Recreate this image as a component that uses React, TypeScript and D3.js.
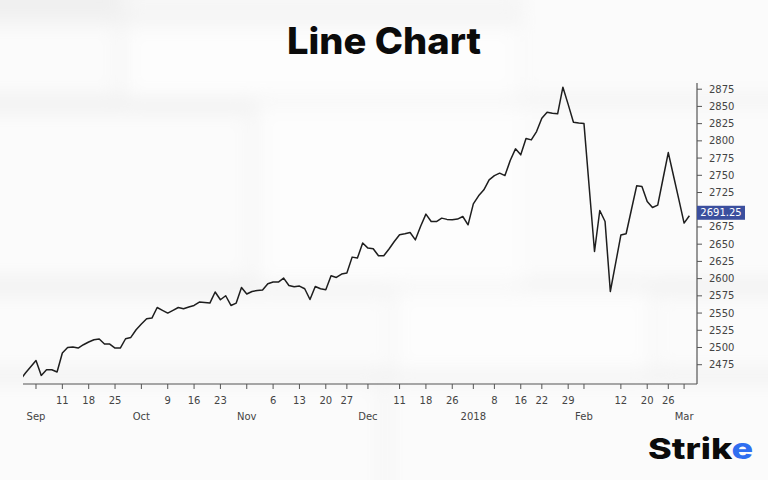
import React from "react";
import * as d3 from "d3";

// Daily closes, trading-day index -3 (Aug 29 2017) .. 124 (Mar 2 2018)
const startIndex = -3;
const closes = [
  2453, 2463, 2472, 2481, 2459.5, 2467.7, 2467.7, 2464.4, 2492, 2500,
  2500.7, 2499.2, 2504, 2508, 2511.3, 2512.3, 2505, 2505, 2499.2, 2499.2,
  2512.7, 2514.6, 2525.8, 2534, 2541.7, 2542.7, 2558.1, 2554, 2550, 2554,
  2558.1, 2556.2, 2558.7, 2561, 2566, 2565.4, 2564.5, 2580.5, 2569.3, 2575.1,
  2561, 2564.5, 2587.1, 2577.6, 2581.3, 2582.8, 2583.4, 2592.5, 2595, 2595,
  2600.8, 2590, 2588.2, 2589.2, 2585.3, 2569.7, 2588.6, 2585.3, 2583.8, 2604.1,
  2601.7, 2606.6, 2608, 2631.2, 2629.8, 2651.6, 2644.3, 2643.3, 2633.1, 2633.1,
  2643, 2653.9, 2663.6, 2665, 2666.9, 2656.3, 2676, 2693.6, 2682.9, 2682.9,
  2687.8, 2686, 2685.4, 2686.4, 2690.2, 2678.1, 2708.6, 2720.2, 2728.9, 2743.4,
  2749.6, 2753.1, 2749.6, 2771.4, 2788.4, 2779.7, 2803.3, 2801.4, 2813.5, 2832.9,
  2841.6, 2840, 2839.2, 2877.9, 2853, 2827.1, 2826, 2825.1, 2732, 2639.4,
  2698.9, 2682.9, 2581.3, 2622, 2663.2, 2665.1, 2700, 2734.7, 2733.7, 2712,
  2703.2, 2706.7, 2745, 2783, 2749, 2715, 2680.6, 2691.25,
];
const lastValue = 2691.25;

// X-axis ticks (trading-day index), labels, and row (0 = day row, 1 = month row)
const xTickIndex = [0, 5, 10, 15, 20, 25, 30, 35, 40, 45, 50, 55, 59, 63, 69, 74, 79, 83, 87, 92, 96, 101, 104, 111, 116, 120, 123];
const xTickLabel = ["Sep", "11", "18", "25", "Oct", "9", "16", "23", "Nov", "6", "13", "20", "27", "Dec", "11", "18", "26", "2018", "8", "16", "22", "29", "Feb", "12", "20", "26", "Mar"];
const xTickRow = [1, 0, 0, 0, 1, 0, 0, 0, 1, 0, 0, 0, 0, 1, 0, 0, 0, 1, 0, 0, 0, 0, 1, 0, 0, 0, 1];

const yTicks = [2475, 2500, 2525, 2550, 2575, 2600, 2625, 2650, 2675, 2700, 2725, 2750, 2775, 2800, 2825, 2850, 2875];

const title = "Line Chart";

export default function App() {
  const W = 768, H = 480;
  const left = 23, right = 697, top = 83, bottom = 384;
  const x = d3.scaleLinear().domain([-2.467, 125.45]).range([left, right]);
  const y = d3.scaleLinear().domain([2447, 2884]).range([bottom, top]);
  const pts: [number, number][] = closes.map((v, i) => [startIndex + i, v]);
  const line = d3.line<[number, number]>().x((d) => x(d[0])).y((d) => y(d[1]));
  const axisColor = "#555";
  const labelColor = "#444";
  const font = "'DejaVu Sans', Verdana, sans-serif";
  const shown = yTicks.filter((t) => Math.abs(y(t) - y(lastValue)) > 9);

  return (
    <svg width={W} height={H} style={{ position: "fixed", left: 0, top: 0 }}>
      <defs>
        <filter id="blur" x="-20%" y="-20%" width="140%" height="140%">
          <feGaussianBlur stdDeviation="9" />
        </filter>
        <clipPath id="plot">
          <rect x={left} y={top - 10} width={right - left} height={bottom - top + 10} />
        </clipPath>
      </defs>
      <rect width={W} height={H} fill="#f0f0f0" />
      <g filter="url(#blur)" fill="#fbfbfb">
        <rect x={-30} y={24} width={148} height={72} />
        <rect x={124} y={24} width={396} height={74} fill="#fdfdfd" />
        <rect x={522} y={-30} width={280} height={126} />
        <rect x={-30} y={112} width={280} height={166} />
        <rect x={256} y={104} width={266} height={180} fill="#fdfdfd" />
        <rect x={522} y={104} width={280} height={176} />
        <rect x={-30} y={294} width={420} height={76} />
        <rect x={394} y={290} width={258} height={82} fill="#fdfdfd" />
        <rect x={656} y={294} width={140} height={76} />
        <rect x={-30} y={382} width={412} height={130} />
        <rect x={388} y={382} width={412} height={130} />
        <rect x={124} y={-30} width={396} height={46} fill="#f7f7f7" />
      </g>

      <text
        x={384}
        y={54}
        textAnchor="middle"
        fontFamily="Inter, 'Open Sans', sans-serif"
        fontWeight={800}
        fontSize={37}
        fill="#0b0b0b"
        textLength={194}
        lengthAdjust="spacingAndGlyphs"
      >
        {title}
      </text>

      {/* line */}
      <path d={line(pts) || ""} fill="none" stroke="#1e1e1e" strokeWidth={1.5} strokeLinejoin="round" clipPath="url(#plot)" />

      {/* x axis */}
      <line x1={left} x2={right} y1={bottom} y2={bottom} stroke={axisColor} strokeWidth={1.2} />
      {xTickIndex.map((t, i) => (
        <g key={i}>
          <line x1={x(t)} x2={x(t)} y1={bottom} y2={bottom + 5} stroke={axisColor} />
          <text
            x={x(t)}
            y={xTickRow[i] === 0 ? 404 : 420}
            textAnchor="middle"
            fontFamily={font}
            fontSize={10}
            fill={labelColor}
          >
            {xTickLabel[i]}
          </text>
        </g>
      ))}

      {/* y axis */}
      <line x1={right} x2={right} y1={top} y2={bottom} stroke={axisColor} strokeWidth={1.2} />
      {yTicks.map((t) => (
        <line key={"t" + t} x1={right} x2={right + 5} y1={y(t)} y2={y(t)} stroke={axisColor} />
      ))}
      {shown.map((t) => (
        <text key={"l" + t} x={709} y={y(t)} dy="0.35em" fontFamily={font} fontSize={10} fill={labelColor}>
          {t}
        </text>
      ))}
      <rect x={right} y={y(lastValue) - 10} width={48} height={14} fill="#3b4f9e" />
      <text
        x={right + 24}
        y={y(lastValue) - 3}
        dy="0.35em"
        textAnchor="middle"
        fontFamily={font}
        fontSize={10}
        fill="#ffffff"
      >
        {lastValue.toFixed(2)}
      </text>

      {/* logo */}
      <text
        x={648}
        y={459}
        fontFamily="Inter, 'Open Sans', sans-serif"
        fontWeight={800}
        fontSize={29}
        fill="#0b0b0b"
        textLength={105}
        lengthAdjust="spacingAndGlyphs"
      >
        Strik<tspan fill="#2f6ef0">e</tspan>
      </text>
    </svg>
  );
}
